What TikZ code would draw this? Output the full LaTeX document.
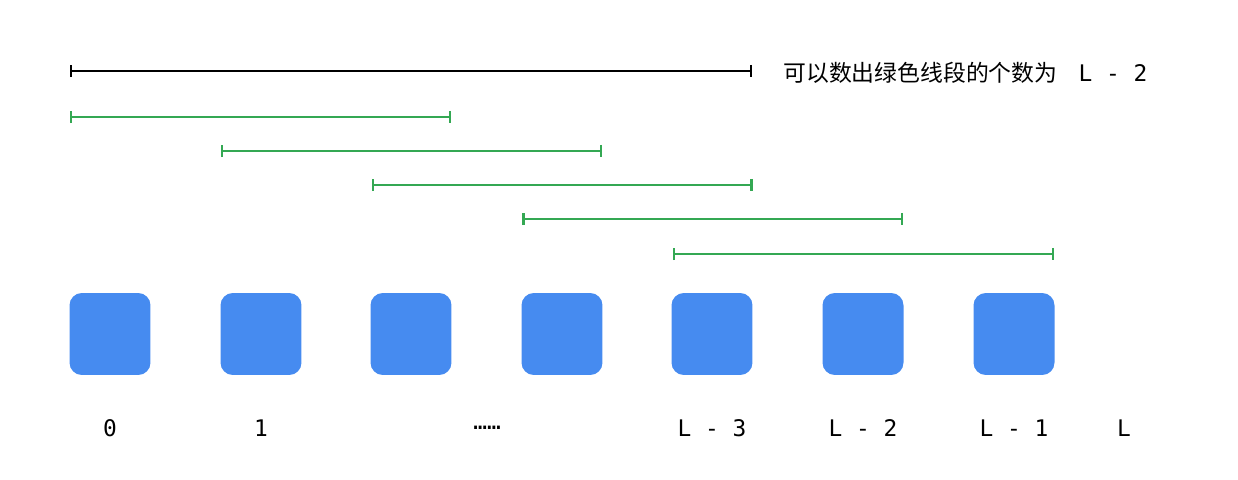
\documentclass[tikz,border=0pt]{standalone}
\usepackage{fontspec}
\setmonofont{DejaVu Sans Mono}
\newfontfamily\cjk{Noto Sans CJK SC}
\usetikzlibrary{arrows.meta,positioning}
\definecolor{cellblue}{HTML}{468BF0}
\definecolor{seggreen}{HTML}{34A853}
\tikzset{
        % Array cells
        cell/.style={rectangle, rounded corners=7pt, fill=cellblue, minimum width=1.62cm, minimum height=1.64cm, inner sep=0pt},
        % Index labels
        index/.style={font=\ttfamily\fontsize{13}{15}\selectfont, inner sep=0pt},
        % Measure segments
        segment/.style={line width=1.3pt, {Bar[width=7pt]}-{Bar[width=7pt]}}
}
\begin{document}
\begin{tikzpicture}[x=0.02cm, y=-0.02cm]
    \useasboundingbox (0,0) rectangle (1238,480);
    % cells and labels
    \foreach \i/\x/\t in {0/110/0, 1/261/1, 2/411/, 3/562/, 4/712/L - 3, 5/863/L - 2, 6/1014/L - 1}{
        \node[cell] (c\i) at (\x,334) {};
        \node[index] (l\i) at (\x,428) {\t};
    }
    \node[index] (dots) at (487,428) {……};
    \node[index] (lL) at (1124,428) {L};
    % total segment
    \coordinate (ta) at (70,71);
    \coordinate (tb) at (752,71);
    \draw[segment] (ta) -- (tb);
    \node[anchor=west, inner sep=0pt, font=\fontsize{13}{15}\selectfont] (count) at (783,73)
        {{\cjk 可以数出绿色线段的个数为} \texttt{ L - 2}};
    % green segments
    \foreach \k/\y in {0/117, 1/151, 2/185, 3/219, 4/254}{
        \coordinate (ga\k) at ({70+150.8*\k},\y);
        \coordinate (gb\k) at ({451+150.8*\k},\y);
        \draw[segment, seggreen] (ga\k) -- (gb\k);
    }
\end{tikzpicture}
\end{document}
